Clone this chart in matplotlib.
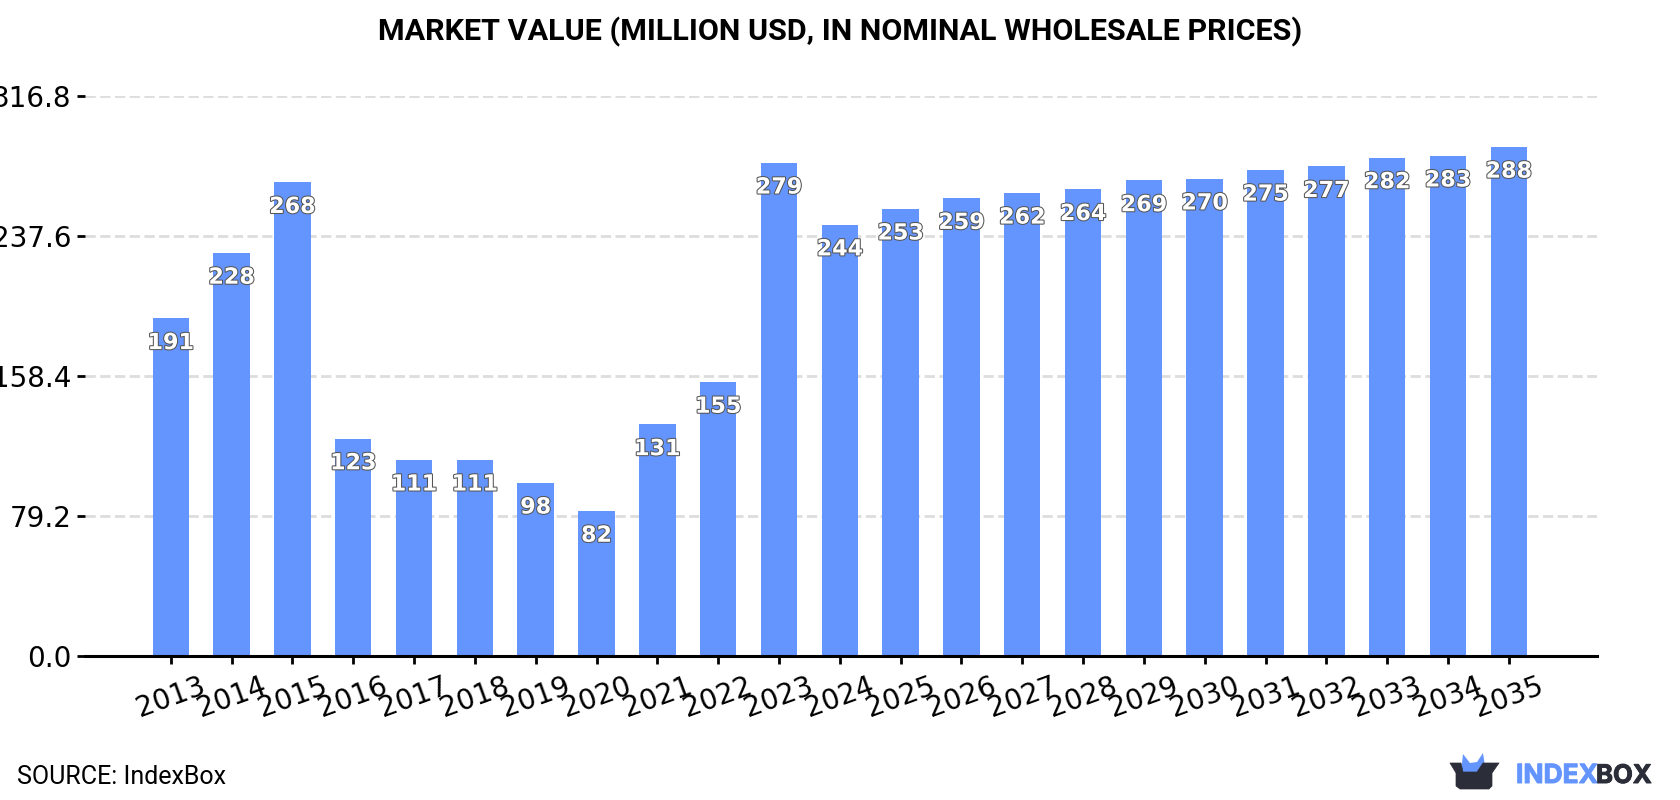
import matplotlib
matplotlib.use("Agg")
import matplotlib.pyplot as plt
import matplotlib.patheffects as pe
from matplotlib.patches import Polygon

years = [str(y) for y in range(2013, 2036)]
market_value = [191, 228, 268, 123, 111, 111, 98, 82, 131, 155, 279, 244, 253,
                259, 262, 264, 269, 270, 275, 277, 282, 283, 288]
y_ticks = [0.0, 79.2, 158.4, 237.6, 316.8]

W, H = 1680, 800
BAR = "#6495ff"
DARK = "#2b2d38"

fig = plt.figure(figsize=(W / 100, H / 100), dpi=100, facecolor="white")
ax = fig.add_axes([85 / W, 1 - 656 / H, (1597 - 85) / W, (656 - 96) / H])

x = list(range(len(years)))
ax.bar(x, market_value, width=0.6, color=BAR, zorder=2)
ax.set_xlim(-1.41, 23.45)
ax.set_ylim(0, 316.8)

for s in ("top", "right", "left"):
    ax.spines[s].set_visible(False)
ax.spines["bottom"].set_linewidth(2.2)
ax.spines["bottom"].set_color("black")

ax.set_yticks(y_ticks)
ax.set_yticklabels([f"{t:.1f}" for t in y_ticks], fontsize=20, family="DejaVu Sans")
ax.set_xticks(x)
ax.set_xticklabels(years, fontsize=20.2, rotation=20, family="DejaVu Sans")
ax.tick_params(axis="y", length=5.5, width=2, pad=4)
ax.tick_params(axis="x", length=5.5, width=2, pad=6)
ax.grid(axis="y", color="#dddddd", linewidth=2, linestyle="--", zorder=1)
ax.set_axisbelow(True)

# value labels sit just inside the top of each bar
for xi, v in zip(x, market_value):
    ax.annotate(str(v), (xi, v), xytext=(0, -17.8), textcoords="offset points",
                ha="center", va="center", color="white", fontsize=16,
                fontweight="bold", family="DejaVu Sans", zorder=5,
                path_effects=[pe.withStroke(linewidth=1.5, foreground="#555555")])

fig.text(0.5, 1 - 31.5 / H, "MARKET VALUE (MILLION USD, IN NOMINAL WHOLESALE PRICES)",
         ha="center", va="center", fontsize=21.95, fontweight="bold", family="Roboto")
fig.text(17 / W, 1 - 776.5 / H, "SOURCE: IndexBox", ha="left", va="center",
         fontsize=18, family="Roboto")

# brand mark in the lower right corner, drawn in pixel coordinates
logo = fig.add_axes([0, 0, 1, 1], facecolor="none")
logo.set_xlim(0, W)
logo.set_ylim(H, 0)
logo.axis("off")
logo.add_patch(Polygon([(1461, 773), (1463, 754), (1470, 763), (1477, 762),
                        (1483, 753), (1486, 773)], closed=True, fc=BAR, ec="none"))
logo.add_patch(Polygon([(1450, 763), (1461, 763), (1463, 772), (1477, 772),
                        (1483, 763), (1499, 763), (1492, 773), (1492, 786),
                        (1489, 789), (1460, 789), (1456, 786), (1456, 773)],
                       closed=True, fc=DARK, ec=DARK, lw=0.5, joinstyle="round"))
logo.text(1516, 783, "INDEX", color=BAR, fontsize=19, fontweight="bold",
          family="Inter", ha="left", va="baseline",
          path_effects=[pe.withStroke(linewidth=0.7, foreground=BAR)])
logo.text(1596, 783, "BOX", color=DARK, fontsize=18.5, fontweight="bold",
          family="Inter", ha="left", va="baseline",
          path_effects=[pe.withStroke(linewidth=0.7, foreground=DARK)])

fig.savefig("out.png", dpi=100, facecolor="white")
